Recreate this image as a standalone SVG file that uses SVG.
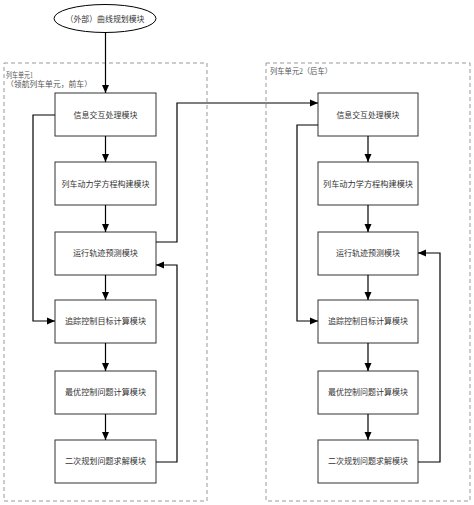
<svg xmlns="http://www.w3.org/2000/svg" width="474" height="505" viewBox="0 0 474 505">
<defs>
<marker id="ah" markerUnits="userSpaceOnUse" markerWidth="8" markerHeight="8" viewBox="0 0 8 8" refX="8" refY="4" orient="auto">
<path d="M0,0.5 L8,4 L0,7.5 Z" fill="#000"/>
</marker>
<style>
.box{fill:#fff;stroke:#333;stroke-width:1}
.cont{fill:none;stroke:#999;stroke-width:1;stroke-dasharray:4,3}
.t{font-family:"Liberation Serif","Noto Sans CJK SC",serif;font-size:8px;fill:#333;text-anchor:middle;dominant-baseline:central}
.lbl{font-family:"Liberation Serif","Noto Sans CJK SC",serif;font-size:7.5px;fill:#555;dominant-baseline:central}
.c{fill:none;stroke:#000;stroke-width:1.2;marker-end:url(#ah)}
</style>
</defs>
<rect width="474" height="505" fill="#fff"/>
<g id="unit1">
<rect class="cont" x="4" y="63" width="203" height="438"/>
<text class="lbl" x="6" y="75" textLength="27" lengthAdjust="spacingAndGlyphs">列车单元1</text>
<text class="lbl" x="6" y="84" textLength="86" lengthAdjust="spacingAndGlyphs">（领航列车单元，前车）</text>
</g>
<g id="unit2">
<rect class="cont" x="266" y="63" width="204" height="438"/>
<text class="lbl" x="270" y="71" textLength="62" lengthAdjust="spacingAndGlyphs">列车单元2（后车）</text>
</g>
<g id="external">
<ellipse cx="105" cy="18.5" rx="51" ry="14" fill="#fff" stroke="#000" stroke-width="1"/>
<text class="t" x="105" y="19" textLength="79" lengthAdjust="spacingAndGlyphs">（外部）曲线规划模块</text>
</g>
<g id="L1"><rect class="box" x="55" y="93" width="101" height="43"/><text class="t" x="105.5" y="115" textLength="64" lengthAdjust="spacingAndGlyphs">信息交互处理模块</text></g>
<g id="L2"><rect class="box" x="55" y="162" width="101" height="43"/><text class="t" x="105.5" y="184" textLength="88" lengthAdjust="spacingAndGlyphs">列车动力学方程构建模块</text></g>
<g id="L3"><rect class="box" x="55" y="232" width="101" height="43"/><text class="t" x="105.5" y="253.5" textLength="65" lengthAdjust="spacingAndGlyphs">运行轨迹预测模块</text></g>
<g id="L4"><rect class="box" x="55" y="300" width="101" height="43"/><text class="t" x="105.5" y="321.5" textLength="81" lengthAdjust="spacingAndGlyphs">追踪控制目标计算模块</text></g>
<g id="L5"><rect class="box" x="55" y="371" width="101" height="43"/><text class="t" x="105.5" y="392.5" textLength="81" lengthAdjust="spacingAndGlyphs">最优控制问题计算模块</text></g>
<g id="L6"><rect class="box" x="55" y="440" width="101" height="43"/><text class="t" x="105.5" y="461.5" textLength="81" lengthAdjust="spacingAndGlyphs">二次规划问题求解模块</text></g>
<g id="R1"><rect class="box" x="318" y="93" width="100" height="43"/><text class="t" x="368" y="115" textLength="63" lengthAdjust="spacingAndGlyphs">信息交互处理模块</text></g>
<g id="R2"><rect class="box" x="318" y="162" width="100" height="43"/><text class="t" x="368" y="184" textLength="90" lengthAdjust="spacingAndGlyphs">列车动力学方程构建模块</text></g>
<g id="R3"><rect class="box" x="318" y="232" width="100" height="43"/><text class="t" x="368" y="253.5" textLength="64" lengthAdjust="spacingAndGlyphs">运行轨迹预测模块</text></g>
<g id="R4"><rect class="box" x="318" y="300" width="100" height="43"/><text class="t" x="368" y="321.5" textLength="80" lengthAdjust="spacingAndGlyphs">追踪控制目标计算模块</text></g>
<g id="R5"><rect class="box" x="318" y="371" width="100" height="43"/><text class="t" x="368" y="392.5" textLength="80" lengthAdjust="spacingAndGlyphs">最优控制问题计算模块</text></g>
<g id="R6"><rect class="box" x="318" y="440" width="100" height="43"/><text class="t" x="368" y="461.5" textLength="80" lengthAdjust="spacingAndGlyphs">二次规划问题求解模块</text></g>
<g id="connectors">
<path class="c" d="M105.5,32.5 V93"/>
<path class="c" d="M105.5,136 V162"/>
<path class="c" d="M105.5,205 V232"/>
<path class="c" d="M105.5,275 V300"/>
<path class="c" d="M105.5,343 V371"/>
<path class="c" d="M105.5,414 V440"/>
<path class="c" d="M55,115 H33 V321 H55"/>
<path class="c" d="M156,462 H177 V265 H156"/>
<path class="c" d="M156,242 H177 V103 H318"/>
<path class="c" d="M368,136 V162"/>
<path class="c" d="M368,205 V232"/>
<path class="c" d="M368,275 V300"/>
<path class="c" d="M368,343 V371"/>
<path class="c" d="M368,414 V440"/>
<path class="c" d="M318,125 H297 V321 H318"/>
<path class="c" d="M418,462 H440 V253 H418"/>
</g>
</svg>
